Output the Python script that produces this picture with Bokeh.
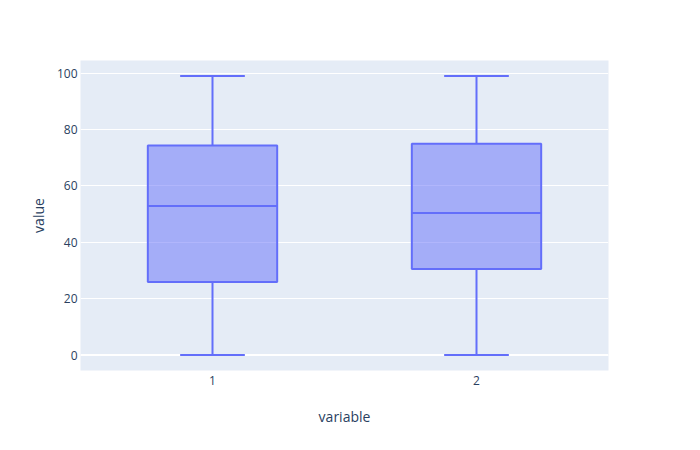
from bokeh.plotting import figure
from bokeh.models import Range1d, FixedTicker, Span
from bokeh.embed import file_html
from bokeh.resources import INLINE

categories = ["1", "2"]
mins = [0, 0]
q1s = [25.9, 30.5]
medians = [52.9, 50.4]
q3s = [74.3, 75.0]
maxs = [99, 99]

BOX_W = 0.49
CAP_W = 0.245
COLOR = "#636efa"
TXT = "#2a3f5f"
FONT = "Open Sans"

xs = [i + 0.5 for i in range(len(categories))]

p = figure(width=692, height=442, output_backend="svg", toolbar_location=None,
           x_range=Range1d(0, len(categories)), y_range=Range1d(-5.5, 104.5),
           min_border_left=80, min_border_right=84, min_border_top=60, min_border_bottom=72)

p.background_fill_color = "#E5ECF6"
p.border_fill_color = "white"
p.outline_line_color = None

# whiskers
p.segment(x0=xs, y0=q3s, x1=xs, y1=maxs, line_color=COLOR, line_width=2)
p.segment(x0=xs, y0=mins, x1=xs, y1=q1s, line_color=COLOR, line_width=2)
# caps
p.segment(x0=[x - CAP_W / 2 for x in xs], y0=maxs, x1=[x + CAP_W / 2 for x in xs], y1=maxs,
          line_color=COLOR, line_width=2)
p.segment(x0=[x - CAP_W / 2 for x in xs], y0=mins, x1=[x + CAP_W / 2 for x in xs], y1=mins,
          line_color=COLOR, line_width=2)
# boxes
p.vbar(x=xs, width=BOX_W, bottom=q1s, top=q3s, fill_color=COLOR, fill_alpha=0.5,
       line_color=COLOR, line_width=2)
# medians
p.segment(x0=[x - BOX_W / 2 for x in xs], y0=medians, x1=[x + BOX_W / 2 for x in xs], y1=medians,
          line_color=COLOR, line_width=2)

p.add_layout(Span(location=0, dimension="width", line_color="white", line_width=2, level="underlay"))

p.xgrid.grid_line_color = None
p.ygrid.grid_line_color = "white"
p.ygrid.grid_line_width = 1
p.yaxis.ticker = FixedTicker(ticks=[0, 20, 40, 60, 80, 100])
p.xaxis.ticker = FixedTicker(ticks=xs)
p.xaxis.major_label_overrides = {x: c for x, c in zip(xs, categories)}

for ax in (p.xaxis, p.yaxis):
    ax.axis_line_color = None
    ax.major_tick_line_color = None
    ax.minor_tick_line_color = None
    ax.major_label_text_color = TXT
    ax.major_label_text_font = FONT
    ax.major_label_text_font_size = "12px"
    ax.axis_label_text_color = TXT
    ax.axis_label_text_font = FONT
    ax.axis_label_text_font_size = "14px"
    ax.axis_label_text_font_style = "normal"

p.xaxis.axis_label = "variable"
p.yaxis.axis_label = "value"
p.yaxis.major_label_standoff = -3
p.xaxis.major_label_standoff = -1
p.xaxis.axis_label_standoff = 19
p.yaxis.axis_label_standoff = 6

open("out.html", "w").write(file_html(p, INLINE))
